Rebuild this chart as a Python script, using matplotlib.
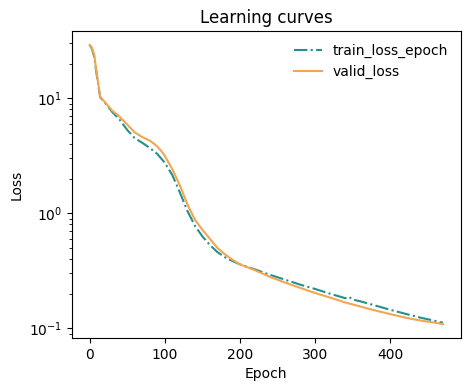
import matplotlib
matplotlib.use("Agg")
import matplotlib.pyplot as plt

train_epochs = [0, 3, 6, 10, 14, 20, 30, 40, 50, 60, 70, 80, 90, 100, 110, 120,
                130, 140, 150, 160, 170, 180, 190, 200, 220, 240, 260, 280, 300,
                320, 340, 345, 350, 360, 380, 400, 420, 440, 460, 470]
train_loss = [29, 27, 23, 15, 10.2, 9.2, 7.6, 6.5, 5.3, 4.5, 4.1, 3.7, 3.28, 2.75,
              2.15, 1.52, 1.05, 0.78, 0.63, 0.53, 0.46, 0.415, 0.385, 0.36,
              0.325, 0.292, 0.265, 0.24, 0.22, 0.2, 0.183, 0.188, 0.178, 0.172,
              0.158, 0.145, 0.134, 0.124, 0.116, 0.112]

valid_epochs = [0, 3, 6, 10, 14, 20, 30, 40, 50, 60, 70, 80, 85, 90, 95, 100, 110,
                120, 130, 140, 150, 160, 170, 180, 190, 200, 220, 240, 260, 280,
                300, 320, 340, 360, 380, 400, 420, 440, 460, 470]
valid_loss = [29, 27.5, 24, 15.5, 10.3, 9.3, 7.8, 6.9, 5.9, 5.05, 4.6, 4.28, 4.05,
              3.8, 3.5, 3.15, 2.42, 1.75, 1.2, 0.88, 0.72, 0.6, 0.5, 0.44, 0.395,
              0.36, 0.32, 0.28, 0.25, 0.225, 0.203, 0.185, 0.168, 0.155, 0.143,
              0.133, 0.124, 0.117, 0.112, 0.109]

fig = plt.figure(figsize=(4.69, 3.91), dpi=100)
ax = fig.add_axes([0.1535, 0.1355, 0.8285, 0.785])

ax.plot(train_epochs, train_loss, color="#23908e", linestyle="-.", label="train_loss_epoch")
ax.plot(valid_epochs, valid_loss, color="#f4a54f", linestyle="-", label="valid_loss")
ax.set_yscale("log")
ax.set_xlabel("Epoch")
ax.set_ylabel("Loss")
ax.set_title("Learning curves")
ax.legend(frameon=False, loc="upper right")

fig.savefig("out.png", dpi=100)
